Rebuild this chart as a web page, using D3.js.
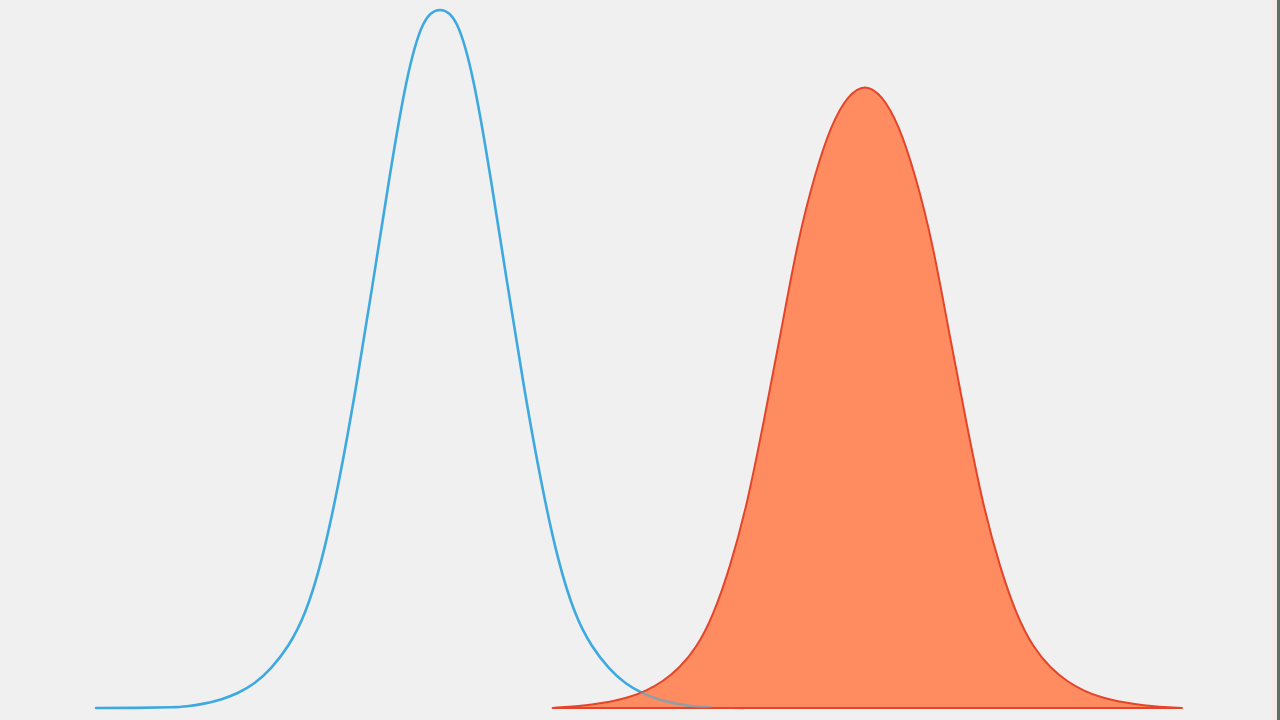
<!DOCTYPE html>
<html>
<head>
<meta charset="utf-8">
<script src="https://cdn.jsdelivr.net/npm/d3@7"></script>
<style>
	html, body { margin: 0; padding: 0; background: #f0f0f0; overflow: hidden; }
	svg { display: block; }
</style>
</head>
<body>
<svg id="curves"></svg>
<script>
// GLOBAL CONSTANTS
// - data
const blueX = [-5.1, -4.5, -4.0, -3.75, -3.5, -3.25, -3.0, -2.75, -2.5, -2.25, -2.0, -1.75, -1.5, -1.25, -1.0, -0.75, -0.5, -0.25,
	0, 0.25, 0.5, 0.75, 1.0, 1.25, 1.5, 1.75, 2.0, 2.25, 2.5, 2.75, 3.0, 3.25, 3.5, 3.75, 4.0, 4.5];
const blueY = [0, 0.0001, 0.0004, 0.0010, 0.0025, 0.0049, 0.0086, 0.0143, 0.0232, 0.0358, 0.0550, 0.0860, 0.1299, 0.1831, 0.2426, 0.3037, 0.3582, 0.3917,
	0.4000, 0.3917, 0.3582, 0.3037, 0.2426, 0.1831, 0.1299, 0.0860, 0.0550, 0.0358, 0.0232, 0.0143, 0.0086, 0.0049, 0.0025, 0.0010, 0.0004, 0.0001];
const orangeX = [1.67, 1.8, 2.05, 2.3, 2.55, 2.8, 3.05, 3.3, 3.55, 3.8, 4.05, 4.3, 4.55, 4.8, 5.05, 5.3, 5.55, 5.8, 6.05,
	6.3, 6.55, 6.8, 7.05, 7.3, 7.55, 7.8, 8.05, 8.3, 8.55, 8.8, 9.05, 9.3, 9.55, 9.8, 10.05, 10.3, 10.55, 10.8, 11.0];
const orangeY = [0, 0.0004, 0.0011, 0.0023, 0.0039, 0.0063, 0.0100, 0.0155, 0.0235, 0.0355, 0.0544, 0.0819, 0.1181, 0.1645, 0.2149, 0.2648, 0.3037, 0.3324, 0.3496,
	0.3556, 0.3496, 0.3324, 0.3037, 0.2648, 0.2149, 0.1645, 0.1181, 0.0819, 0.0544, 0.0355, 0.0235, 0.0155, 0.0100, 0.0063, 0.0039, 0.0023, 0.0011, 0.0004, 0];
const xDomain = [-5.1, 11.0];
const yDomain = [0, 0.4];
// - svg-related
const width = 1280;
const height = 720;
const leftEdge = 96; // in px
const rightEdge = 1182; // in px
const topEdge = 10; // in px
const baseLine = 708; // in px
const blueColor = '#3ea9e0';
const orangeFill = '#ff8c60';
const orangeStroke = '#e4452a';

const svg = d3.select('#curves')
	.attr('width', width)
	.attr('height', height);

const x = d3.scaleLinear().domain(xDomain).range([leftEdge, rightEdge]);
const y = d3.scaleLinear().domain(yDomain).range([baseLine, topEdge]);
const smooth = d3.curveNatural;

function initialize(){
	drawBackground();
	const bluePoints = blueX.map((v, i) => [v, blueY[i]]);
	const orangePoints = orangeX.map((v, i) => [v, orangeY[i]]);
	drawBlueCurve(bluePoints, svg, 1);
	drawOrangeArea(orangePoints);
	drawBlueOverlap(bluePoints);
}

// background and the thin frame on the right side
function drawBackground(){
	svg.append('rect')
		.attr('width', width)
		.attr('height', height)
		.attr('fill', '#f0f0f0');

	svg.append('rect')
		.attr('x', 1272)
		.attr('y', 0)
		.attr('width', 5)
		.attr('height', height)
		.attr('fill', '#f5e9ea');

	svg.append('rect')
		.attr('x', 1277)
		.attr('y', 0)
		.attr('width', 3)
		.attr('height', height)
		.attr('fill', '#5d6e66');
}

// the outlined blue density
function drawBlueCurve(points, parent, opacity){
	const line = d3.line()
		.x(d => x(d[0]))
		.y(d => y(d[1]))
		.curve(smooth);

	parent.append('path')
		.datum(points)
		.attr('d', line)
		.attr('fill', 'none')
		.attr('stroke', blueColor)
		.attr('stroke-width', 2.6)
		.attr('stroke-linejoin', 'round')
		.attr('stroke-linecap', 'round')
		.attr('opacity', opacity);
}

// the filled orange density
function drawOrangeArea(points){
	const area = d3.area()
		.x(d => x(d[0]))
		.y0(y(0))
		.y1(d => y(d[1]))
		.curve(smooth);

	// clip used later so the blue tail shows through the fill
	svg.append('defs')
		.append('clipPath')
			.attr('id', 'orange-clip')
		.append('path')
			.datum(points)
			.attr('d', area);

	svg.append('path')
		.datum(points)
		.attr('d', area)
		.attr('fill', orangeFill)
		.attr('stroke', orangeStroke)
		.attr('stroke-width', 2)
		.attr('stroke-linejoin', 'round');
}

// blue tail seen through the orange fill, a bit muted
function drawBlueOverlap(points){
	const g = svg.append('g').attr('clip-path', 'url(#orange-clip)');
	drawBlueCurve(points.filter(d => d[0] <= 4.2), g, 0.55);
}

initialize();
</script>
</body>
</html>
